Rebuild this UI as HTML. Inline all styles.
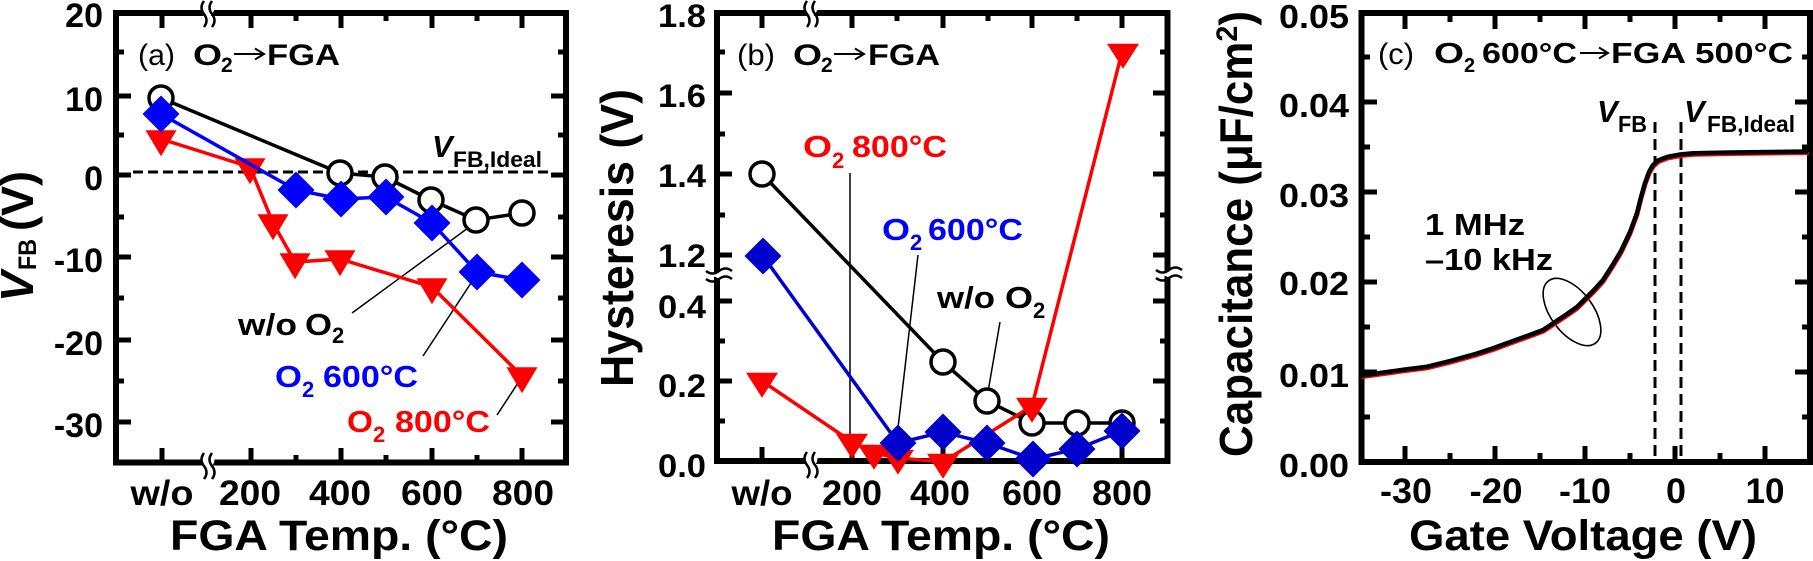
<!DOCTYPE html>
<html><head><meta charset="utf-8"><style>
html,body{margin:0;padding:0;background:#fff;}
svg{display:block;}
</style></head><body>
<svg width="1813" height="561" viewBox="0 0 1813 561" xmlns="http://www.w3.org/2000/svg" font-family="'Liberation Sans', Arial, sans-serif" font-weight="bold">
<rect width="1813" height="561" fill="#fff"/>

<!-- ================= PANEL A ================= -->
<line x1="133" y1="172" x2="548" y2="172" stroke="#000" stroke-width="3" stroke-dasharray="10 5"/>
<rect x="116" y="13" width="450" height="449.5" fill="none" stroke="#000" stroke-width="6"/>
<path stroke="#000" stroke-width="5" fill="none" d="
M116,96H131 M116,175H131 M116,257H131 M116,340H131 M116,422H131
M116,52H124 M116,135H124 M116,217H124 M116,298H124 M116,381H124
M566,96H551 M566,175H551 M566,257H551 M566,340H551 M566,422H551
M566,52H558 M566,135H558 M566,217H558 M566,298H558 M566,381H558
M162,462V448 M251,462V448 M341,462V448 M432,462V448 M522,462V448
M296,462V455 M386,462V455 M477,462V455
M162,13V28 M251,13V28 M341,13V28 M432,13V28 M522,13V28
M296,13V21 M386,13V21 M477,13V21"/>
<!-- breaks -->
<g transform="translate(208,14)"><path d="M-4,-13 q-5,6.5 0,13 q5,6.5 0,13 L4,13 q-5,-6.5 0,-13 q5,-6.5 0,-13Z" fill="#fff"/><path d="M-4,-13 q-5,6.5 0,13 q5,6.5 0,13 M4,-13 q-5,6.5 0,13 q5,6.5 0,13" fill="none" stroke="#000" stroke-width="2.5"/></g>
<g transform="translate(208,466)"><path d="M-4,-13 q-5,6.5 0,13 q5,6.5 0,13 L4,13 q-5,-6.5 0,-13 q5,-6.5 0,-13Z" fill="#fff"/><path d="M-4,-13 q-5,6.5 0,13 q5,6.5 0,13 M4,-13 q-5,6.5 0,13 q5,6.5 0,13" fill="none" stroke="#000" stroke-width="2.5"/></g>

<!-- annotation lines a -->
<g stroke="#000" stroke-width="1.5">
<line x1="352" y1="313" x2="468" y2="228"/>
<line x1="423" y1="356" x2="473" y2="280"/>
<line x1="497" y1="415" x2="518" y2="383"/>
</g>

<!-- black series a -->
<polyline points="161,98 340,173 385,177 431,200 476,220 522,213" fill="none" stroke="#000" stroke-width="3.5"/>
<g fill="#fff" stroke="#000" stroke-width="3.5">
<circle cx="161" cy="98" r="12"/><circle cx="340" cy="173" r="12"/><circle cx="385" cy="177" r="12"/><circle cx="431" cy="200" r="12"/><circle cx="476" cy="220" r="12"/><circle cx="522" cy="213" r="12"/>
</g>
<!-- red series a -->
<polyline points="161,139 250,167 273,223 295,262 340,259 432,287 522,376" fill="none" stroke="#ff0000" stroke-width="3.5"/>
<g fill="#ff0000">
<polygon points="145.5,130.3 176.5,130.3 161,156.3"/>
<polygon points="234.5,158.3 265.5,158.3 250,184.3"/>
<polygon points="257.5,214.3 288.5,214.3 273,240.3"/>
<polygon points="279.5,253.3 310.5,253.3 295,279.3"/>
<polygon points="324.5,250.3 355.5,250.3 340,276.3"/>
<polygon points="416.5,278.3 447.5,278.3 432,304.3"/>
<polygon points="506.5,367.3 537.5,367.3 522,393.3"/>
</g>
<!-- blue series a -->
<polyline points="161,114 296,190 341,199 386,197 432,223 477,272 522,280" fill="none" stroke="#0000ff" stroke-width="3.5"/>
<g fill="#0000ff">
<path d="M161,95.5L179.5,114L161,132.5L142.5,114Z"/>
<path d="M296,171.5L314.5,190L296,208.5L277.5,190Z"/>
<path d="M341,180.5L359.5,199L341,217.5L322.5,199Z"/>
<path d="M386,178.5L404.5,197L386,215.5L367.5,197Z"/>
<path d="M432,204.5L450.5,223L432,241.5L413.5,223Z"/>
<path d="M477,253.5L495.5,272L477,290.5L458.5,272Z"/>
<path d="M522,261.5L540.5,280L522,298.5L503.5,280Z"/>
</g>

<!-- texts a -->
<text x="138" y="65" font-size="30" font-weight="normal" textLength="37" lengthAdjust="spacingAndGlyphs">(a)</text>
<text x="193" y="65" font-size="30" textLength="29" lengthAdjust="spacingAndGlyphs">O</text>
<text x="221" y="72" font-size="21">2</text>
<path d="M234,54H263 M255,48.5L264,54L255,59.5" fill="none" stroke="#000" stroke-width="2"/>
<text x="267" y="65" font-size="30" textLength="73" lengthAdjust="spacingAndGlyphs">FGA</text>

<text x="432" y="157" font-size="31" font-style="italic">V</text>
<text x="453" y="167" font-size="22" textLength="89" lengthAdjust="spacingAndGlyphs">FB,Ideal</text>

<text x="238" y="335" font-size="31" textLength="59" lengthAdjust="spacingAndGlyphs">w/o</text>
<text x="305" y="335" font-size="31" textLength="27" lengthAdjust="spacingAndGlyphs">O</text>
<text x="332" y="343" font-size="22">2</text>
<g fill="#0000ff">
<text x="275" y="387" font-size="31" textLength="27" lengthAdjust="spacingAndGlyphs">O</text>
<text x="302" y="397" font-size="22">2</text>
<text x="323" y="387" font-size="31" textLength="95" lengthAdjust="spacingAndGlyphs">600°C</text>
</g>
<g fill="#ff0000">
<text x="347" y="432" font-size="31" textLength="26" lengthAdjust="spacingAndGlyphs">O</text>
<text x="373" y="442" font-size="22">2</text>
<text x="395" y="432" font-size="31" textLength="95" lengthAdjust="spacingAndGlyphs">800°C</text>
</g>

<g font-size="34" text-anchor="end">
<text x="103" y="27">20</text>
<text x="103" y="111">10</text>
<text x="103" y="190">0</text>
<text x="103" y="272">-10</text>
<text x="103" y="355">-20</text>
<text x="103" y="437">-30</text>
</g>
<g font-size="35" text-anchor="middle">
<text x="162" y="505" textLength="63" lengthAdjust="spacingAndGlyphs">w/o</text>
<text x="250" y="505" textLength="62" lengthAdjust="spacingAndGlyphs">200</text>
<text x="340" y="505" textLength="62" lengthAdjust="spacingAndGlyphs">400</text>
<text x="432" y="505" textLength="62" lengthAdjust="spacingAndGlyphs">600</text>
<text x="523" y="505" textLength="62" lengthAdjust="spacingAndGlyphs">800</text>
</g>
<text x="170" y="550" font-size="43" textLength="338" lengthAdjust="spacingAndGlyphs">FGA Temp. (°C)</text>
<text transform="translate(33,302) rotate(-90)" font-size="46" font-style="italic">V</text>
<text transform="translate(36,270) rotate(-90)" font-size="25" textLength="31" lengthAdjust="spacingAndGlyphs">FB</text>
<text transform="translate(33,231) rotate(-90)" font-size="45" textLength="60" lengthAdjust="spacingAndGlyphs">(V)</text>

<!-- ================= PANEL B ================= -->
<rect x="717" y="13" width="450.5" height="448" fill="none" stroke="#000" stroke-width="6"/>
<path stroke="#000" stroke-width="5" fill="none" d="
M717,93H732 M717,174H732 M717,255H732 M717,301H732 M717,381H732
M717,52H725 M717,134H725 M717,215H725 M717,341H725 M717,421H725
M1167.5,93H1153 M1167.5,174H1153 M1167.5,255H1153 M1167.5,301H1153 M1167.5,381H1153
M1167.5,52H1160 M1167.5,134H1160 M1167.5,215H1160 M1167.5,341H1160 M1167.5,421H1160
M762,461V447 M852,461V447 M943,461V447 M1032,461V447 M1122,461V447
M897,461V454 M988,461V454 M1077,461V454
M762,13V28 M852,13V28 M943,13V28 M1032,13V28 M1122,13V28
M897,13V21 M988,13V21 M1077,13V21"/>
<g transform="translate(811,14)"><path d="M-4,-13 q-5,6.5 0,13 q5,6.5 0,13 L4,13 q-5,-6.5 0,-13 q5,-6.5 0,-13Z" fill="#fff"/><path d="M-4,-13 q-5,6.5 0,13 q5,6.5 0,13 M4,-13 q-5,6.5 0,13 q5,6.5 0,13" fill="none" stroke="#000" stroke-width="2.5"/></g>
<g transform="translate(811,465)"><path d="M-4,-13 q-5,6.5 0,13 q5,6.5 0,13 L4,13 q-5,-6.5 0,-13 q5,-6.5 0,-13Z" fill="#fff"/><path d="M-4,-13 q-5,6.5 0,13 q5,6.5 0,13 M4,-13 q-5,6.5 0,13 q5,6.5 0,13" fill="none" stroke="#000" stroke-width="2.5"/></g>
<g transform="translate(719,275) rotate(90)"><path d="M-4,-13 q-5,6.5 0,13 q5,6.5 0,13 L4,13 q-5,-6.5 0,-13 q5,-6.5 0,-13Z" fill="#fff"/><path d="M-4,-13 q-5,6.5 0,13 q5,6.5 0,13 M4,-13 q-5,6.5 0,13 q5,6.5 0,13" fill="none" stroke="#000" stroke-width="2.5"/></g>
<g transform="translate(1169,274) rotate(90)"><path d="M-4,-13 q-5,6.5 0,13 q5,6.5 0,13 L4,13 q-5,-6.5 0,-13 q5,-6.5 0,-13Z" fill="#fff"/><path d="M-4,-13 q-5,6.5 0,13 q5,6.5 0,13 M4,-13 q-5,6.5 0,13 q5,6.5 0,13" fill="none" stroke="#000" stroke-width="2.5"/></g>

<g stroke="#000" stroke-width="1.5">
<line x1="850" y1="173" x2="850" y2="435"/>
<line x1="918" y1="255" x2="898" y2="428"/>
<line x1="1000" y1="322" x2="988" y2="392"/>
</g>

<polyline points="762,174 943,362 987,401 1032,423 1077,423 1122,423" fill="none" stroke="#000" stroke-width="3.5"/>
<g fill="#fff" stroke="#000" stroke-width="3.5">
<circle cx="762" cy="174" r="12"/><circle cx="943" cy="362" r="12"/><circle cx="987" cy="401" r="12"/><circle cx="1032" cy="423" r="12"/><circle cx="1077" cy="423" r="12"/><circle cx="1122" cy="423" r="12"/>
</g>
<polyline points="762,381 852,442 874,453 898,458 943,462 1032,406 1122,52" fill="none" stroke="#ff0000" stroke-width="3.5"/>
<g fill="#ff0000">
<polygon points="746,372.7 778,372.7 762,397.7"/>
<polygon points="836,433.7 868,433.7 852,458.7"/>
<polygon points="858,444.7 890,444.7 874,469.7"/>
<polygon points="882,449.7 914,449.7 898,474.7"/>
<polygon points="927,453.7 959,453.7 943,478.7"/>
<polygon points="1016,397.7 1048,397.7 1032,422.7"/>
<polygon points="1107,43.7 1139,43.7 1123,68.7"/>
</g>
<polyline points="763,256 898,443 943,432 987,443 1033,459 1077,449 1122,431" fill="none" stroke="#0000cc" stroke-width="3.5"/>
<g fill="#0000cc">
<path d="M763,237.5L781.5,256L763,274.5L744.5,256Z"/>
<path d="M898,424.5L916.5,443L898,461.5L879.5,443Z"/>
<path d="M943,413.5L961.5,432L943,450.5L924.5,432Z"/>
<path d="M987,424.5L1005.5,443L987,461.5L968.5,443Z"/>
<path d="M1033,440.5L1051.5,459L1033,477.5L1014.5,459Z"/>
<path d="M1077,430.5L1095.5,449L1077,467.5L1058.5,449Z"/>
<path d="M1122,412.5L1140.5,431L1122,449.5L1103.5,431Z"/>
</g>

<text x="737" y="65" font-size="30" font-weight="normal" textLength="38" lengthAdjust="spacingAndGlyphs">(b)</text>
<text x="793" y="65" font-size="30" textLength="29" lengthAdjust="spacingAndGlyphs">O</text>
<text x="821" y="72" font-size="21">2</text>
<path d="M834,54H863 M855,48.5L864,54L855,59.5" fill="none" stroke="#000" stroke-width="2"/>
<text x="868" y="65" font-size="30" textLength="72" lengthAdjust="spacingAndGlyphs">FGA</text>

<g fill="#ff0000">
<text x="803" y="157" font-size="31" textLength="29" lengthAdjust="spacingAndGlyphs">O</text>
<text x="832" y="168" font-size="22">2</text>
<text x="852" y="157" font-size="31" textLength="95" lengthAdjust="spacingAndGlyphs">800°C</text>
</g>
<g fill="#0000ff">
<text x="882" y="240" font-size="31" textLength="28" lengthAdjust="spacingAndGlyphs">O</text>
<text x="910" y="250" font-size="22">2</text>
<text x="928" y="240" font-size="31" textLength="95" lengthAdjust="spacingAndGlyphs">600°C</text>
</g>
<text x="937" y="308" font-size="31" textLength="58" lengthAdjust="spacingAndGlyphs">w/o</text>
<text x="1005" y="308" font-size="31" textLength="28" lengthAdjust="spacingAndGlyphs">O</text>
<text x="1033" y="318" font-size="22">2</text>

<g font-size="32" text-anchor="end">
<text x="706" y="27" textLength="48" lengthAdjust="spacingAndGlyphs">1.8</text>
<text x="706" y="107" textLength="48" lengthAdjust="spacingAndGlyphs">1.6</text>
<text x="706" y="187" textLength="48" lengthAdjust="spacingAndGlyphs">1.4</text>
<text x="706" y="267" textLength="48" lengthAdjust="spacingAndGlyphs">1.2</text>
<text x="706" y="318" textLength="48" lengthAdjust="spacingAndGlyphs">0.4</text>
<text x="706" y="397" textLength="48" lengthAdjust="spacingAndGlyphs">0.2</text>
<text x="706" y="477" textLength="48" lengthAdjust="spacingAndGlyphs">0.0</text>
</g>
<g font-size="35" text-anchor="middle">
<text x="762" y="505" textLength="61" lengthAdjust="spacingAndGlyphs">w/o</text>
<text x="852" y="505" textLength="60" lengthAdjust="spacingAndGlyphs">200</text>
<text x="940" y="505" textLength="60" lengthAdjust="spacingAndGlyphs">400</text>
<text x="1032" y="505" textLength="60" lengthAdjust="spacingAndGlyphs">600</text>
<text x="1122" y="505" textLength="60" lengthAdjust="spacingAndGlyphs">800</text>
</g>
<text x="772" y="550" font-size="43" textLength="338" lengthAdjust="spacingAndGlyphs">FGA Temp. (°C)</text>
<text transform="translate(633,387) rotate(-90)" font-size="46" textLength="298" lengthAdjust="spacingAndGlyphs">Hysteresis (V)</text>

<!-- ================= PANEL C ================= -->
<g stroke="#000" stroke-width="3" stroke-dasharray="11 6">
<line x1="1655" y1="122" x2="1655" y2="462"/>
<line x1="1681" y1="122" x2="1681" y2="462"/>
</g>
<rect x="1361.5" y="13" width="448.5" height="449" fill="none" stroke="#000" stroke-width="6"/>
<path stroke="#000" stroke-width="5" fill="none" d="
M1361.5,102H1377 M1361.5,192H1377 M1361.5,282H1377 M1361.5,372H1377
M1361.5,57H1370 M1361.5,147H1370 M1361.5,237H1370 M1361.5,327H1370 M1361.5,417H1370
M1810,102H1795 M1810,192H1795 M1810,282H1795 M1810,372H1795
M1810,57H1802 M1810,147H1802 M1810,237H1802 M1810,327H1802 M1810,417H1802
M1405,462V446 M1495,462V446 M1585,462V446 M1675,462V446 M1765,462V446
M1450,462V453 M1540,462V453 M1630,462V453 M1720,462V453
M1405,13V29 M1495,13V29 M1585,13V29 M1675,13V29 M1765,13V29
M1450,13V22 M1540,13V22 M1630,13V22 M1720,13V22"/>

<ellipse cx="1572" cy="312" rx="39" ry="21" transform="rotate(53 1572 312)" fill="none" stroke="#000" stroke-width="1.6"/>

<polyline fill="none" stroke="#0000ff" stroke-width="3" stroke-linejoin="round" transform="translate(0,0.8)" points="1361,375.6 1387,372 1405,369.5 1427,366.7 1450,361 1477,353.5 1493,348.3 1513,341 1531,334.5 1543,330 1558,320 1567,314 1577,307 1585,299 1594,290 1603,280 1612,266 1621,251 1630,232 1637,213 1641,197 1645,183 1649,172 1653,165 1658,160.5 1667,157 1680,154.5 1693,153.3 1730,152.5 1808,151.5"/>
<polyline fill="none" stroke="#ff0000" stroke-width="3" stroke-linejoin="round" transform="translate(0.8,2)" points="1361,375.6 1387,372 1405,369.5 1427,366.7 1450,361 1477,353.5 1493,348.3 1513,341 1531,334.5 1543,330 1558,320 1567,314 1577,307 1585,299 1594,290 1603,280 1612,266 1621,251 1630,232 1637,213 1641,197 1645,183 1649,172 1653,165 1658,160.5 1667,157 1680,154.5 1693,153.3 1730,152.5 1808,151.5"/>
<polyline fill="none" stroke="#000" stroke-width="4.5" stroke-linejoin="round" points="1361,375.6 1387,372 1405,369.5 1427,366.7 1450,361 1477,353.5 1493,348.3 1513,341 1531,334.5 1543,330 1558,320 1567,314 1577,307 1585,299 1594,290 1603,280 1612,266 1621,251 1630,232 1637,213 1641,197 1645,183 1649,172 1653,165 1658,160.5 1667,157 1680,154.5 1693,153.3 1730,152.5 1808,151.5"/>

<text x="1378" y="64" font-size="30" font-weight="normal" textLength="36" lengthAdjust="spacingAndGlyphs">(c)</text>
<text x="1434" y="63" font-size="29" textLength="30" lengthAdjust="spacingAndGlyphs">O</text>
<text x="1464" y="72" font-size="20">2</text>
<text x="1482" y="63" font-size="29" textLength="95" lengthAdjust="spacingAndGlyphs">600°C</text>
<path d="M1580,53H1607 M1599,47.5L1608,53L1599,58.5" fill="none" stroke="#000" stroke-width="2"/>
<text x="1611" y="63" font-size="29" textLength="75" lengthAdjust="spacingAndGlyphs">FGA</text>
<text x="1695" y="63" font-size="29" textLength="98" lengthAdjust="spacingAndGlyphs">500°C</text>

<text x="1597" y="122" font-size="31" font-style="italic">V</text>
<text x="1618" y="132" font-size="23" textLength="29" lengthAdjust="spacingAndGlyphs">FB</text>
<text x="1684" y="122" font-size="31" font-style="italic">V</text>
<text x="1707" y="132" font-size="23" textLength="88" lengthAdjust="spacingAndGlyphs">FB,Ideal</text>

<text x="1425" y="235" font-size="31" textLength="100" lengthAdjust="spacingAndGlyphs">1 MHz</text>
<text x="1425" y="270" font-size="31" textLength="128" lengthAdjust="spacingAndGlyphs">–10 kHz</text>

<g font-size="33" text-anchor="end">
<text x="1349" y="28" textLength="70" lengthAdjust="spacingAndGlyphs">0.05</text>
<text x="1349" y="117" textLength="70" lengthAdjust="spacingAndGlyphs">0.04</text>
<text x="1349" y="207" textLength="70" lengthAdjust="spacingAndGlyphs">0.03</text>
<text x="1349" y="295" textLength="70" lengthAdjust="spacingAndGlyphs">0.02</text>
<text x="1349" y="387" textLength="70" lengthAdjust="spacingAndGlyphs">0.01</text>
<text x="1349" y="477" textLength="70" lengthAdjust="spacingAndGlyphs">0.00</text>
</g>
<g font-size="35" text-anchor="middle">
<text x="1406" y="503" textLength="52" lengthAdjust="spacingAndGlyphs">-30</text>
<text x="1496" y="503" textLength="53" lengthAdjust="spacingAndGlyphs">-20</text>
<text x="1585" y="503" textLength="52" lengthAdjust="spacingAndGlyphs">-10</text>
<text x="1676" y="503" textLength="20" lengthAdjust="spacingAndGlyphs">0</text>
<text x="1765" y="503" textLength="39" lengthAdjust="spacingAndGlyphs">10</text>
</g>
<text x="1409" y="550" font-size="43" textLength="348" lengthAdjust="spacingAndGlyphs">Gate Voltage (V)</text>
<text transform="translate(1252,457) rotate(-90)" font-size="46" textLength="446" lengthAdjust="spacingAndGlyphs">Capacitance (μF/cm<tspan font-size="30" dy="-15">2</tspan><tspan dy="15">)</tspan></text>
</svg>
</body></html>
